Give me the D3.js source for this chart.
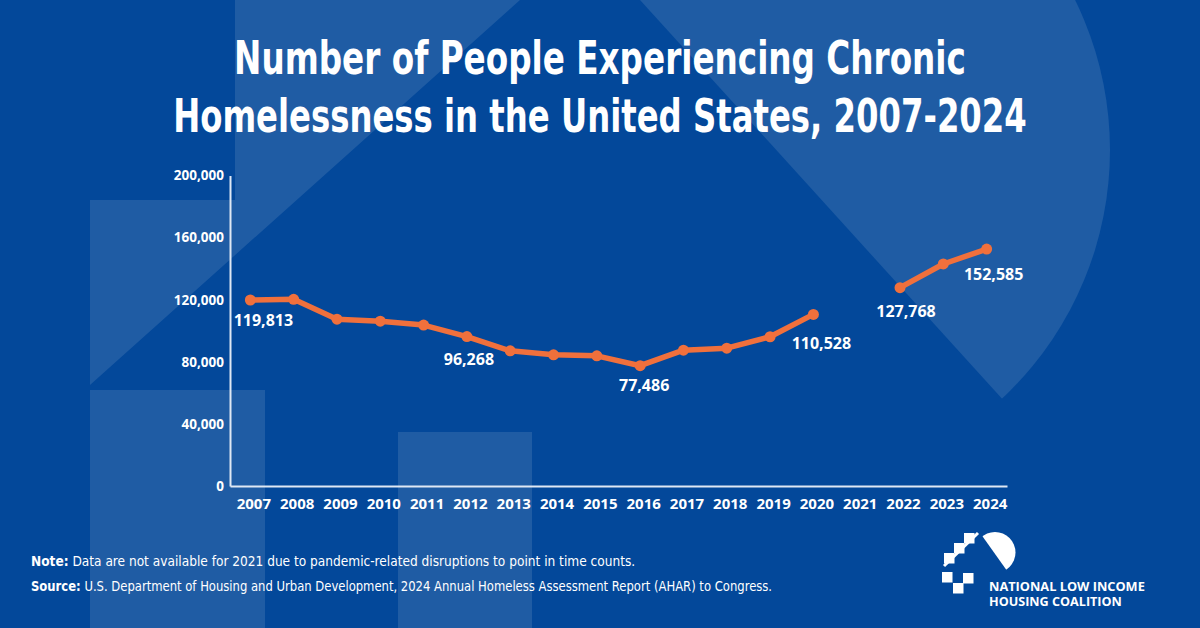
<!DOCTYPE html>
<html lang="en">
<head>
<meta charset="utf-8">
<script src="https://d3js.org/d3.v7.min.js"></script>
<style>
    html, body { margin: 0; padding: 0; background: #03489a; }
    svg { display: block; }
    text { font-family: "Open Sans", "Liberation Sans", sans-serif; fill: #fff; }
    .cond { font-family: "Liberation Sans Narrow", "DejaVu Sans Condensed", "Roboto Condensed", "Liberation Sans", sans-serif; }
</style>
</head>
<body>
<div id="chart"></div>
<script>
    // Data (2021 not available)
    const years = ["2007", "2008", "2009", "2010", "2011", "2012", "2013", "2014", "2015",
                   "2016", "2017", "2018", "2019", "2020", "2021", "2022", "2023", "2024"];
    const counts = [119813, 120230, 107470, 106190, 103640, 96268, 87050, 84490, 83850,
                    77486, 87490, 88770, 96140, 110528, null, 127768, 143010, 152585];
    const yTicks = [0, 40000, 80000, 120000, 160000, 200000];
    const labelledYears = ["2007", "2012", "2016", "2020", "2022", "2024"];

    const titleLines = ["Number of People Experiencing Chronic",
                        "Homelessness in the United States, 2007-2024"];
    const noteText = ["Note:", " Data are not available for 2021 due to pandemic-related disruptions to point in time counts."];
    const sourceText = ["Source:", " U.S. Department of Housing and Urban Development, 2024 Annual Homeless Assessment Report (AHAR) to Congress."];
    const orgName = ["NATIONAL LOW INCOME", "HOUSING COALITION"];

    const data = years.map((yr, i) => ({year: yr, value: counts[i]}));

    const width = 1200, height = 628;
    const lineColour = "#f0703c";
    const shapeColour = "#1f5ca4";

    const svg = d3.select("#chart")
        .append("svg")
        .attr("width", width)
        .attr("height", height);
    const defs = svg.append("defs");

    // squeeze a text horizontally so it spans the wanted width
    function fitWidth(t, target, anchorX) {
        const w = t.node().getComputedTextLength();
        if (w > 0) {
            t.attr("transform", "translate(" + anchorX + ",0) scale(" + (target / w) + ",1) translate(" + (-anchorX) + ",0)");
        }
    }

    // background
    svg.append("rect")
        .attr("width", width)
        .attr("height", height)
        .attr("fill", "#03489a");

    const bg = svg.append("g").attr("fill", shapeColour);

    // big roof band on the left
    bg.append("path")
        .attr("d", "M235,0 L520,0 L90,385 L90,200 L235,200 Z");
    // wall blocks
    bg.append("rect").attr("x", 90).attr("y", 390).attr("width", 175).attr("height", 238);
    bg.append("rect").attr("x", 398).attr("y", 432).attr("width", 134).attr("height", 196);

    // the "sun" on the right, cut by the roof line
    defs.append("clipPath").attr("id", "sunClip")
        .append("path").attr("d", "M640,0 L1005,402 L1200,402 L1200,0 Z");
    bg.append("circle")
        .attr("cx", 770).attr("cy", 150).attr("r", 340)
        .attr("clip-path", "url(#sunClip)");

    // title, one text per line
    titleLines.forEach((t, i) => {
        const tt = svg.append("text")
            .attr("class", "cond")
            .attr("x", 600)
            .attr("y", 74 + i * 58)
            .attr("text-anchor", "middle")
            .attr("font-weight", "bold")
            .attr("font-size", 46)
            .text(t);
        fitWidth(tt, i === 0 ? 732 : 854, 600);
    });

    // scales
    const x = d3.scalePoint()
        .domain(years)
        .range([230, 1007])
        .padding(0.47);

    const y = d3.scaleLinear()
        .domain([0, 200000])
        .range([486, 175.5]);

    // axes
    const xAxis = svg.append("g")
        .attr("transform", "translate(0," + y(0) + ")")
        .call(d3.axisBottom(x).tickSize(0).tickSizeOuter(0).tickPadding(12));
    xAxis.select(".domain").attr("stroke", "#dfe8f4").attr("stroke-width", 2);
    xAxis.selectAll("text")
        .attr("dx", 3)
        .attr("fill", "#fff")
        .attr("font-family", "'Open Sans', sans-serif")
        .attr("font-weight", "bold")
        .attr("font-size", 15);

    const yAxis = svg.append("g")
        .attr("transform", "translate(230,0)")
        .call(d3.axisLeft(y).tickValues(yTicks).tickSize(0).tickSizeOuter(0)
            .tickPadding(6).tickFormat(d3.format(",")));
    yAxis.select(".domain").attr("stroke", "#dfe8f4").attr("stroke-width", 2);
    yAxis.selectAll("text")
        .attr("fill", "#fff")
        .attr("font-family", "'Open Sans', sans-serif")
        .attr("font-weight", "bold")
        .attr("font-size", 13.5);

    // line, broken where data is missing
    const line = d3.line()
        .defined(d => d.value != null)
        .x(d => x(d.year))
        .y(d => y(d.value));

    svg.append("path")
        .datum(data)
        .attr("fill", "none")
        .attr("stroke", lineColour)
        .attr("stroke-width", 5.5)
        .attr("stroke-linejoin", "round")
        .attr("d", line);

    svg.selectAll(".dot")
        .data(data.filter(d => d.value != null))
        .join("circle")
        .attr("class", "dot")
        .attr("cx", d => x(d.year))
        .attr("cy", d => y(d.value))
        .attr("r", 5.5)
        .attr("fill", lineColour);

    // value labels under selected points
    const labelOffset = {
        "2007": [13, 20], "2012": [2, 22], "2016": [4, 19],
        "2020": [8, 29], "2022": [6, 23], "2024": [7, 25]
    };
    svg.selectAll(".val")
        .data(data.filter(d => labelledYears.includes(d.year)))
        .join("text")
        .attr("class", "val")
        .attr("x", d => x(d.year) + labelOffset[d.year][0])
        .attr("y", d => y(d.value) + labelOffset[d.year][1])
        .attr("text-anchor", "middle")
        .attr("dominant-baseline", "central")
        .attr("font-weight", "bold")
        .attr("font-size", 16)
        .text(d => d3.format(",")(d.value));

    // footnotes
    [noteText, sourceText].forEach((parts, i) => {
        const t = svg.append("text")
            .attr("class", "cond")
            .attr("x", 31)
            .attr("y", 566 + i * 25)
            .attr("font-size", 14);
        t.append("tspan").attr("font-weight", "bold").text(parts[0]);
        t.append("tspan").text(parts[1]);
        fitWidth(t, i === 0 ? 605 : 742, 31);
    });

    // logo
    const logo = svg.append("g").attr("fill", "#fff");
    defs.append("clipPath").attr("id", "logoClip")
        .append("path").attr("d", "M978,530 L1010,575 L1030,575 L1030,525 Z");
    logo.append("circle")
        .attr("cx", 995).attr("cy", 552.5).attr("r", 20.5)
        .attr("clip-path", "url(#logoClip)");
    logo.append("path")
        .attr("d", "M978,533 L944,566")
        .attr("stroke", "#fff")
        .attr("stroke-width", 3);
    const squares = [[964, 533], [954, 543], [944, 553], [942, 572], [963, 573], [953, 583]];
    logo.selectAll(".sq")
        .data(squares)
        .join("rect")
        .attr("class", "sq")
        .attr("x", d => d[0])
        .attr("y", d => d[1])
        .attr("width", 10.5)
        .attr("height", 10.5);

    orgName.forEach((t, i) => {
        const tt = svg.append("text")
            .attr("x", 989)
            .attr("y", 591 + i * 15)
            .attr("font-weight", "bold")
            .attr("font-size", 12.5)
            .text(t);
        fitWidth(tt, i === 0 ? 156 : 133, 989);
    });
</script>
</body>
</html>
